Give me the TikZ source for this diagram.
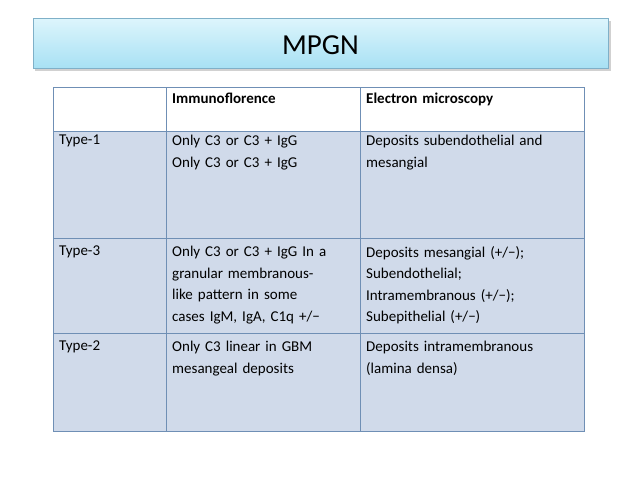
\documentclass[tikz,border=0pt]{standalone}
\usepackage{fontspec}
\setmainfont{Carlito}
\definecolor{rowfill}{HTML}{D0DAEA}
\definecolor{gridc}{HTML}{6F8FB5}
\definecolor{ttop}{HTML}{DDF5FC}
\definecolor{tbot}{HTML}{A8E1F4}
\definecolor{tbord}{HTML}{7FB0C8}
\begin{document}
\begin{tikzpicture}[x=1pt,y=-1pt,
  cell/.style={anchor=north west,align=left,inner sep=0pt,font=\fontsize{15}{21.5}\selectfont,text width=190pt},
  hdr/.style={cell,font=\fontsize{15}{21.5}\selectfont\bfseries},
  grid/.style={draw=gridc,line width=0.9pt}]
\useasboundingbox (0,0) rectangle (638,479);
\fill[black!18] (35,21) rectangle (611,71);
\shade[top color=ttop,bottom color=tbot,draw=tbord,line width=0.6pt] (33,18) rectangle (608,68);
\node[font=\fontsize{29}{30}\selectfont] (title) at (320.5,45) {MPGN};
\fill[rowfill] (53,131) rectangle (584,431);
\draw[grid] (53,87) rectangle (584,431);
\draw[grid] (53,131) -- (584,131) (53,238) -- (584,238) (53,333) -- (584,333);
\draw[grid] (166,87) -- (166,431) (360,87) -- (360,431);
\node[hdr] (h2) at (172,93) {Immunoflorence};
\node[hdr] (h3) at (366,93) {Electron microscopy};
\node[cell] (r1) at (59,135) {Type-1};
\node[cell] (r1b) at (172,135) {Only C3 or C3 + IgG\\Only C3 or C3 + IgG};
\node[cell] (r1c) at (366,135) {Deposits subendothelial and\\mesangial};
\node[cell] (r2) at (59,246) {Type-3};
\node[cell] (r2b) at (172,246) {Only C3 or C3 + IgG In a\\granular membranous-\\like pattern in some\\cases IgM, IgA, C1q +/−};
\node[cell] (r2c) at (366,246) {Deposits mesangial (+/−);\\Subendothelial;\\Intramembranous (+/−);\\Subepithelial (+/−)};
\node[cell] (r3) at (59,341) {Type-2};
\node[cell] (r3b) at (172,341) {Only C3 linear in GBM\\mesangeal deposits};
\node[cell] (r3c) at (366,341) {Deposits intramembranous\\(lamina densa)};
\end{tikzpicture}
\end{document}
